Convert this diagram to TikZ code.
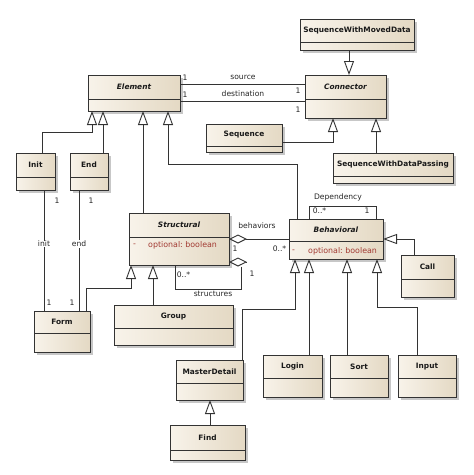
\documentclass[tikz,border=0pt]{standalone}
\usepackage{fontspec}
\setmainfont{DejaVu Sans}[ItalicFont={DejaVu Sans Oblique},BoldFont={DejaVu Sans Bold},BoldItalicFont={DejaVu Sans Bold Oblique}]
\usetikzlibrary{arrows.meta}
\definecolor{boxL}{HTML}{F8F3EA}
\definecolor{boxR}{HTML}{E4D9C4}
\definecolor{edge}{HTML}{333333}
\definecolor{attrc}{HTML}{A23A32}
\tikzset{
 umlcls/.style={draw=edge, line width=1pt, left color=boxL, right color=boxR, inner sep=0pt, outer sep=0pt},
 clsname/.style={font=\fontsize{7.4}{8}\selectfont\bfseries, text=black!90, inner sep=0pt},
 absname/.style={font=\fontsize{7.4}{8}\selectfont\bfseries\itshape, text=black!90, inner sep=0pt},
 lbl/.style={font=\fontsize{7.6}{8}\selectfont, text=black!85, inner sep=0.6pt},
 attrtxt/.style={font=\fontsize{7.9}{8}\selectfont, text=attrc, inner sep=0pt, anchor=west},
 conn/.style={draw=edge, line width=0.9pt},
 inh/.style={conn, -{Triangle[length=14pt,width=10pt,fill=white,line width=0.9pt]}},
 aggr/.style={conn, {Diamond[length=18pt,width=9pt,fill=white,line width=0.9pt]}-},
 shadowbox/.style={fill=black!22},
}
\newcommand\umlbox[8]{%
  \pgfmathsetmacro\bw{#4-#2}\pgfmathsetmacro\bh{#5-#3}%
  \fill[shadowbox] (#2+3,#3+3) rectangle (#4+3,#5+3);
  \node[umlcls, minimum width=\bw pt, minimum height=\bh pt, anchor=north west] (#1) at (#2,#3) {};
  \draw[draw=edge, line width=0.9pt] (#2,#6) -- (#4,#6);
  \node[#8] (#1t) at ({(#2+#4)/2},{(#3+#6)/2}) {#7};
}
\begin{document}
\begin{tikzpicture}[x=1pt,y=-1pt]
\useasboundingbox (0,0) rectangle (474,475);
% classes
\umlbox{Element}{88}{75}{180}{111}{99}{Element}{absname}
\umlbox{Connector}{305}{75}{386}{118}{99}{Connector}{absname}
\umlbox{SWMD}{300}{19}{414}{50}{42}{SequenceWithMovedData}{clsname}
\umlbox{Sequence}{206}{124}{282}{152}{146}{Sequence}{clsname}
\umlbox{SWDP}{333}{153}{453}{183}{176}{SequenceWithDataPassing}{clsname}
\umlbox{Init}{16}{153}{55}{190}{177}{Init}{clsname}
\umlbox{End}{70}{153}{108}{190}{177}{End}{clsname}
\umlbox{Structural}{129}{213}{229}{265}{237}{Structural}{absname}
\umlbox{Behavioral}{289}{219}{383}{259}{241}{Behavioral}{absname}
\umlbox{Call}{401}{255}{454}{297}{279}{Call}{clsname}
\umlbox{Form}{34}{311}{90}{352}{333}{Form}{clsname}
\umlbox{Group}{114}{305}{233}{345}{328}{Group}{clsname}
\umlbox{MD}{176}{360}{243}{400}{383}{MasterDetail}{clsname}
\umlbox{Login}{263}{355}{322}{397}{378}{Login}{clsname}
\umlbox{Sort}{330}{355}{388}{397}{378}{Sort}{clsname}
\umlbox{Input}{398}{355}{456}{397}{378}{Input}{clsname}
\umlbox{Find}{170}{425}{245}{460}{450}{Find}{clsname}
% attributes
\node[attrtxt] (sa1) at (133,245) {-};
\node[attrtxt] (sa2) at (148,245) {optional:\ boolean};
\node[attrtxt] (ba1) at (292,251) {-};
\node[attrtxt] (ba2) at (308,251) {optional:\ boolean};
% associations Element - Connector
\draw[conn] ([yshift=-9pt]Element.north east) -- ([yshift=-9pt]Connector.north west);
\draw[conn] ([yshift=-26pt]Element.north east) -- ([yshift=-26pt]Connector.north west);
\node[lbl] (ls1) at (185,78) {1};
\node[lbl] (ls2) at (243,77) {source};
\node[lbl] (ls3) at (298,91) {1};
\node[lbl] (ld1) at (185,95) {1};
\node[lbl] (ld2) at (243,94) {destination};
\node[lbl] (ld3) at (298,110) {1};
% Connector hierarchy
\draw[inh] ([xshift=-8pt]SWMD.south) -- ([xshift=3.5pt]Connector.north);
\draw[inh] ([yshift=-4pt]Sequence.east) -| ([xshift=-12.5pt]Connector.south);
\draw[inh] ([xshift=-17pt]SWDP.north) -- ([xshift=30.5pt]Connector.south);
% Element hierarchy
\draw[inh] ([xshift=6.5pt]Init.north) -- ++(0,-21) -| ([xshift=4pt]Element.south west);
\draw[inh] ([xshift=14pt]End.north) -- ([xshift=15pt]Element.south west);
\draw[inh] ([xshift=-36pt]Structural.north) -- ([xshift=55pt]Element.south west);
\draw[inh] ([xshift=-39pt]Behavioral.north) -- ++(0,-55) -| ([xshift=80pt]Element.south west);
% Dependency
\draw[conn] ([xshift=-27pt]Behavioral.north) -- ++(0,-13) -| ([xshift=40pt]Behavioral.north);
\node[lbl] (dep) at (338,197) {Dependency};
\node[lbl, anchor=west] (dep1) at (312,211) {0..*};
\node[lbl] (dep2) at (367,211) {1};
% behaviors
\draw[aggr] (Structural.east) -- (Behavioral.west);
\node[lbl] (beh) at (257,226) {behaviors};
\node[lbl] (beh1) at (235,249) {1};
\node[lbl, anchor=west] (beh2) at (272,249) {0..*};
% structures
\coordinate (stA) at ([yshift=3pt]Structural.south east);
\draw[aggr] (stA) -- ++(18,0);
\draw[conn] ([xshift=12pt,yshift=-1.5pt]Structural.south east) -- ++(0,22.5) -| ([xshift=-4pt]Structural.south);
\node[lbl, anchor=west] (st1) at (176,275) {0..*};
\node[lbl] (st2) at (213,294) {structures};
\node[lbl] (st3) at (252,274) {1};
% Form / Group
\draw[inh] ([xshift=24pt]Form.north) -- ++(0,-23) -| ([xshift=-48pt]Structural.south);
\draw[inh] ([xshift=-20.5pt]Group.north) -- ([xshift=-26pt]Structural.south);
\draw[conn] ([xshift=8.5pt]Init.south) -- ([xshift=-18pt]Form.north);
\draw[conn] ([xshift=-10pt]End.south) -- ([xshift=17pt]Form.north);
\node[lbl] (fi1) at (57,201) {1};
\node[lbl, fill=white] (fi2) at (44,244) {init};
\node[lbl] (fi3) at (49,303) {1};
\node[lbl] (fe1) at (91,201) {1};
\node[lbl, fill=white] (fe2) at (79,244) {end};
\node[lbl] (fe3) at (72,303) {1};
% Behavioral hierarchy
\draw[inh] ([xshift=-13.5pt]Call.north) |- (Behavioral.east);
\draw[inh] ([xshift=32.5pt]MD.north) -- ++(0,-51) -| ([xshift=-41pt]Behavioral.south);
\draw[inh] ([xshift=16.5pt]Login.north) -- ([xshift=-27pt]Behavioral.south);
\draw[inh] ([xshift=-12pt]Sort.north) -- ([xshift=11pt]Behavioral.south);
\draw[inh] ([xshift=-10pt]Input.north) -- ++(0,-48) -| ([xshift=41pt]Behavioral.south);
\draw[inh] ([xshift=2.5pt]Find.north) -- ([xshift=0.5pt]MD.south);
\end{tikzpicture}
\end{document}
